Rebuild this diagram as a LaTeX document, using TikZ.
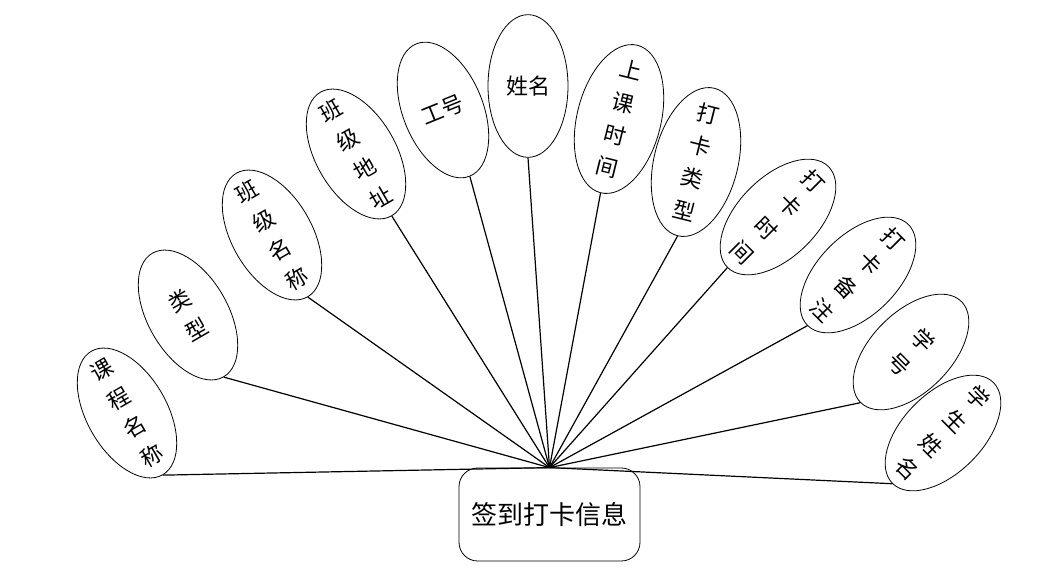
\documentclass[tikz,border=0pt]{standalone}
\usepackage{fontspec}
\setmainfont{Noto Sans CJK SC}
\usetikzlibrary{shapes.geometric}
\tikzset{
  attr/.style={draw, ellipse, line width=0.6pt, inner sep=0pt,
    minimum width=60pt, minimum height=107pt},
  attrlong/.style={attr, minimum width=63pt, minimum height=114pt},
  attrtext/.style={inner sep=0pt, align=center,
    font=\fontsize{16.5}{25}\selectfont},
  entbox/.style={draw, rounded corners=14pt, line width=0.6pt,
    minimum width=135.75pt, minimum height=69.75pt,
    font=\fontsize{19.5}{24}\selectfont},
  link/.style={line width=0.9pt}
}
% ellipse with its text turned the same way
\newcommand\attrnode[5]{%
  \node[#4, rotate=#3] (#1) at #2 {};
  \node[attrtext, rotate=#3] (#1-t) at (#1) {#5};
}
\begin{document}
\begin{tikzpicture}[x=0.75pt, y=-0.75pt]
  \useasboundingbox (0,0) rectangle (1061,575);
  \node[entbox] (qd) at (549.5,514.5) {签到打卡信息};
  \coordinate (hub) at (qd.north);
  \attrnode{kcmc}{(127,413)}{30}{attr}{课\\程\\名\\称}
  \attrnode{lx}{(188,315)}{30}{attr}{类\\型}
  \attrnode{bjmc}{(272,235)}{30}{attr}{班\\级\\名\\称}
  \attrnode{bjdz}{(356,154)}{30}{attr}{班\\级\\地\\址}
  \attrnode{gh}{(443,110)}{22}{attr}{工号}
  \attrnode{xm}{(528,86)}{0}{attr}{姓名}
  \attrnode{sksj}{(619,119)}{-14}{attrlong}{上\\课\\时\\间}
  \attrnode{dklx}{(696,162)}{-14}{attrlong}{打\\卡\\类\\型}
  \attrnode{dksj}{(778,217)}{-45}{attr}{打\\卡\\时\\间}
  \attrnode{dkbz}{(858,275)}{-45}{attr}{打\\卡\\备\\注}
  \attrnode{xh}{(911,352)}{-45}{attr}{学\\号}
  \attrnode{xsxm}{(943,433)}{-45}{attr}{学\\生\\姓\\名}
  \foreach \a in {kcmc,lx,bjmc,bjdz,gh,xm,sksj,dklx,dksj,dkbz,xh,xsxm}
    \draw[link] (hub) -- (\a.south);
\end{tikzpicture}
\end{document}
